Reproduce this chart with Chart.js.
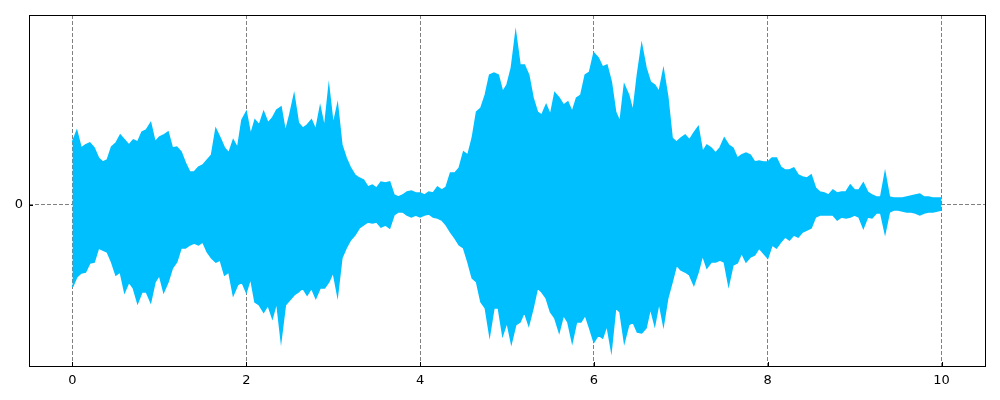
<!DOCTYPE html>
<html>
<head>
<meta charset="utf-8">
<script src="https://cdn.jsdelivr.net/npm/chart.js@4/dist/chart.umd.min.js"></script>
<style>
  html, body { margin: 0; padding: 0; background: #fff; }
  #wrap { width: 1000px; height: 400px; }
</style>
</head>
<body>
<div id="wrap"><canvas id="myChart" width="1000" height="400"></canvas></div>
<script>
// waveform envelope, one value every 0.05 s from 0 to 10 s
var sampleStep = 0.05;
var upperEnv = [
  63,74,57,60,62,57,47,43,45,58, 62,70,65,60,65,63,73,75,82,63,
  68,70,73,57,58,53,42,33,33,38, 40,45,50,76,67,57,52,65,57,85,
  93,70,85,80,93,82,87,95,98,73, 90,110,82,77,80,85,75,98,77,118,
  80,100,60,47,37,30,27,25,18,20, 17,23,22,23,10,8,10,13,14,12,
  12,10,13,12,18,15,18,32,32,37, 53,50,67,93,97,110,130,132,130,113,
  120,137,172,140,140,130,107,93,90,100, 90,112,107,100,103,93,107,110,130,133,
  152,147,138,140,123,93,83,120,110,93, 130,160,137,123,120,113,135,108,67,63,
  67,70,65,72,78,53,60,57,52,57, 67,60,57,47,50,52,50,43,44,43,
  43,47,47,38,35,35,37,30,28,27, 30,17,13,12,10,15,12,13,13,20,
  15,15,22,13,10,8,8,32,8,7, 7,7,8,9,10,11,8,8,7,7,
  7
];
var lowerEnv = [
  -82,-72,-68,-67,-58,-57,-43,-45,-47,-57, -70,-67,-87,-77,-83,-98,-87,-87,-97,-77,
  -70,-87,-77,-63,-57,-43,-43,-40,-38,-40, -37,-47,-53,-57,-55,-70,-67,-90,-80,-77,
  -87,-73,-97,-100,-107,-100,-113,-97,-135,-100, -95,-90,-87,-83,-90,-83,-93,-83,-83,-77,
  -67,-90,-53,-43,-35,-30,-23,-20,-17,-18, -17,-22,-20,-23,-10,-7,-7,-10,-12,-10,
  -12,-10,-9,-12,-13,-15,-20,-27,-33,-40, -43,-57,-73,-77,-97,-103,-130,-103,-103,-130,
  -117,-138,-120,-117,-107,-120,-103,-83,-87,-93, -107,-113,-127,-110,-117,-137,-117,-117,-110,-123,
  -137,-130,-133,-120,-145,-103,-107,-137,-120,-117, -127,-128,-123,-103,-120,-97,-120,-93,-77,-60,
  -65,-67,-70,-80,-67,-50,-63,-57,-57,-55, -57,-80,-60,-58,-48,-57,-52,-50,-43,-48,
  -53,-40,-43,-37,-32,-35,-30,-32,-27,-25, -23,-12,-10,-10,-10,-10,-15,-12,-13,-12,
  -10,-12,-23,-12,-13,-8,-8,-28,-7,-5, -5,-6,-7,-7,-8,-10,-8,-7,-7,-6,
  -5
];
var xTicks = [0, 2, 4, 6, 8, 10];
var yTicks = [0];

var waveColor = '#00BFFF';

var upperPts = [];
var lowerPts = [];
for (var i = 0; i < upperEnv.length; i++) {
  var t = +(i * sampleStep).toFixed(2);
  upperPts.push({x: t, y: upperEnv[i]});
  lowerPts.push({x: t, y: lowerEnv[i]});
}

// black frame round the plot + short inward ticks (bottom and left)
var framePlugin = {
  id: 'frame',
  afterDraw: function(chart) {
    var ctx = chart.ctx, a = chart.chartArea;
    var xs = chart.scales.x, ys = chart.scales.y;
    ctx.save();
    ctx.strokeStyle = '#000';
    ctx.lineWidth = 1;
    ctx.beginPath();
    xTicks.forEach(function(v) {
      var px = Math.round(xs.getPixelForValue(v)) + 0.5;
      ctx.moveTo(px, a.bottom);
      ctx.lineTo(px, a.bottom - 4);
    });
    yTicks.forEach(function(v) {
      var py = Math.round(ys.getPixelForValue(v)) + 0.5;
      ctx.moveTo(a.left, py);
      ctx.lineTo(a.left + 4, py);
    });
    ctx.stroke();
    ctx.strokeRect(Math.round(a.left) + 0.5, Math.round(a.top) + 0.5,
                   Math.round(a.right - a.left), Math.round(a.bottom - a.top));
    ctx.restore();
  }
};

var ctx = document.getElementById('myChart');
var chart = new Chart(ctx, {
  type: 'line',
  data: {
    datasets: [{
      label: 'upper',
      data: upperPts,
      borderColor: waveColor,
      backgroundColor: waveColor,
      borderWidth: 1.5,
      pointRadius: 0,
      tension: 0,
      fill: '+1'
    }, {
      label: 'lower',
      data: lowerPts,
      borderColor: waveColor,
      backgroundColor: waveColor,
      borderWidth: 1.5,
      pointRadius: 0,
      tension: 0,
      fill: false
    }]
  },
  options: {
    responsive: false,
    animation: false,
    devicePixelRatio: 1,
    layout: { padding: { left: 0, right: 15, top: 15, bottom: 0 } },
    plugins: {
      legend: { display: false },
      tooltip: { enabled: false }
    },
    scales: {
      x: {
        type: 'linear',
        min: -0.5,
        max: 10.5,
        afterBuildTicks: function(scale) {
          scale.ticks = xTicks.map(function(v) { return {value: v}; });
        },
        afterFit: function(scale) { scale.height = 34; },
        grid: { color: '#808080', lineWidth: 1, drawTicks: false },
        border: { display: false, dash: [4, 2] },
        ticks: {
          padding: 7,
          color: '#000',
          font: { family: 'DejaVu Sans', size: 13 },
          maxRotation: 0
        }
      },
      y: {
        min: -161,
        max: 190,
        afterBuildTicks: function(scale) {
          scale.ticks = yTicks.map(function(v) { return {value: v}; });
        },
        afterFit: function(scale) { scale.width = 29; },
        grid: { color: '#808080', lineWidth: 1, drawTicks: false },
        border: { display: false, dash: [4, 2] },
        ticks: {
          padding: 6,
          color: '#000',
          font: { family: 'DejaVu Sans', size: 13 }
        }
      }
    }
  },
  plugins: [framePlugin]
});
</script>
</body>
</html>
